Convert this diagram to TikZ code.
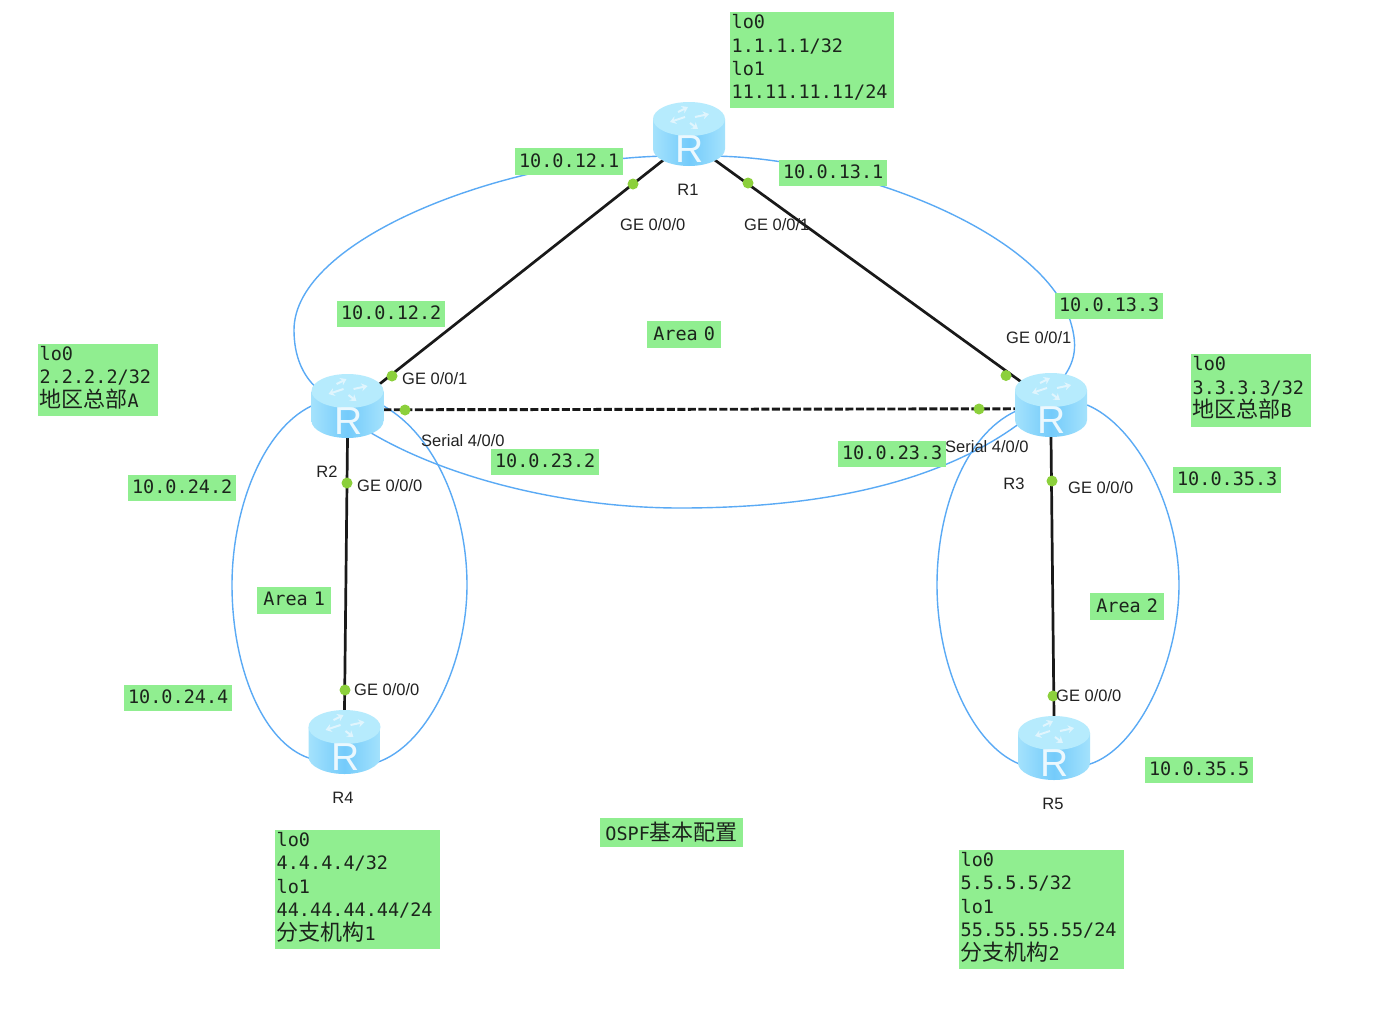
\documentclass[tikz,border=0pt]{standalone}
\usepackage{fontspec}
\setmainfont{Liberation Sans}
\setmonofont{DejaVu Sans Mono}
\newfontfamily\cjk{Noto Sans CJK SC}
\usetikzlibrary{shapes.geometric,arrows.meta}
\definecolor{boxgreen}{HTML}{90EE90}
\definecolor{wireblue}{HTML}{5AAAF5}
\definecolor{portgreen}{HTML}{8CD03C}
\definecolor{lightbody}{HTML}{A4E2FC}
\definecolor{midbody}{HTML}{74CBFB}
\definecolor{toptone}{HTML}{B6EBFD}
\definecolor{inktone}{HTML}{1C241C}
\definecolor{labeltone}{HTML}{222222}
\tikzset{
  routeranchor/.style={ellipse,minimum width=72pt,minimum height=64pt,inner sep=0pt},
  ospfarc/.style={draw=wireblue,line width=1.4pt},
  linkline/.style={draw=black!90,line width=2.7pt},
  serialline/.style={draw=black!90,line width=2.9pt,dash pattern=on 8pt off 2.5pt},
  portdot/.style={circle,fill=portgreen,minimum size=11pt,inner sep=0pt},
  ifacelabel/.style={anchor=west,inner sep=0pt,yshift=-0.7pt,text=labeltone,font=\fontsize{16.5}{20}\selectfont},
  routername/.style={inner sep=0pt,yshift=-0.7pt,text=labeltone,font=\fontsize{16.5}{20}\selectfont},
  greenbox/.style={fill=boxgreen,anchor=north west,inner xsep=1.5pt,inner ysep=0pt,text=inktone,
    font=\ttfamily\fontsize{18.5}{23.4}\selectfont},
  routersign/.style={draw=white!88!cyan,line width=2pt,-{Stealth[length=6pt,width=8pt]}},
}
\newcommand{\hanzi}[1]{{\cjk\fontsize{22}{23.4}\selectfont #1}}
\newcommand{\blockbox}[6]{\node[greenbox,align=left,text width=#4pt-3pt,minimum height=#5pt] (#1) at (#2,#3) {#6\rule[-7pt]{0pt}{7pt}};}
\newcommand{\tagbox}[6]{\node[greenbox,align=center,text width=#4pt-3pt,minimum height=#5pt,text depth=3pt] (#1) at (#2,#3) {#6};}
\newcommand{\routericon}[1]{%
  \begin{scope}[shift={(#1)}]
    \shade[left color=lightbody,right color=lightbody,middle color=midbody]
      (-36,-15) -- (-36,15) .. controls (-36,24) and (-20,32) .. (0,32)
      .. controls (20,32) and (36,24) .. (36,15) -- (36,-15) -- cycle;
    \fill[toptone] (0,-15) ellipse [x radius=36,y radius=17];
    \draw[routersign] (-4,-17) -- (-19,-12);
    \draw[routersign] (-11,-22) -- (-1,-27);
    \draw[routersign] (6,-17) -- (20,-20);
    \draw[routersign] (1,-11) -- (9,-5);
    \node[inner sep=0pt,text=white!92!cyan,font=\fontsize{39}{39}\selectfont] (#1glyph) at (1,15) {R};
  \end{scope}}
\begin{document}
\begin{tikzpicture}[x=1pt,y=-1pt]
\useasboundingbox (0,0) rectangle (1399,1018);
\fill[white] (0,0) rectangle (1399,1018);

\node[routeranchor] (r1) at (689,134) {};
\node[routeranchor] (r2) at (347.5,406) {};
\node[routeranchor] (r3) at (1051,405) {};
\node[routeranchor] (r4) at (344.5,742) {};
\node[routeranchor] (r5) at (1054,748) {};

% area outlines
\draw[ospfarc] (r1.-140) .. controls (500,160) and (294,240) .. (294,330)
  .. controls (294,355) and (302,375) .. (r2.150);
\draw[ospfarc] (r1.-40) .. controls (850,158) and (1040,230) .. (1070,320)
  .. controls (1078,345) and (1075,360) .. (r3.65);
\draw[ospfarc] (r2.-50) .. controls (450,480) and (570,508) .. (680,508)
  .. controls (800,508) and (930,490) .. (r3.-150);
\draw[ospfarc] (r2.180) .. controls (262,430) and (232,510) .. (232,585)
  .. controls (232,670) and (265,748) .. (r4.-150);
\draw[ospfarc] (r2.0) .. controls (435,435) and (467,510) .. (467,585)
  .. controls (467,665) and (425,752) .. (r4.-40);
\draw[ospfarc] (r3.-170) .. controls (965,435) and (937,510) .. (937,585)
  .. controls (937,670) and (975,750) .. (r5.-150);
\draw[ospfarc] (r3.0) .. controls (1135,425) and (1179,505) .. (1179,585)
  .. controls (1179,665) and (1135,755) .. (r5.-30);

% links
\draw[linkline] (r1.-134) -- (r2.34);
\draw[linkline] (r1.-46) -- (r3.142);
\draw[serialline] (r2.-6) -- (r3.186);
\draw[linkline] (r2.-90) -- (r4.90);
\draw[linkline] (r3.-90) -- (r5.90);

% ports
\node[portdot] (p12) at (633,184) {};
\node[portdot] (p21) at (392,376) {};
\node[portdot] (p13) at (748,183) {};
\node[portdot] (p31) at (1006,375.5) {};
\node[portdot] (p23) at (405,410) {};
\node[portdot] (p32) at (979,409) {};
\node[portdot] (p24) at (347,483) {};
\node[portdot] (p42) at (345,690) {};
\node[portdot] (p35) at (1052,481) {};
\node[portdot] (p53) at (1053,696) {};

\routericon{r1}
\routericon{r2}
\routericon{r3}
\routericon{r4}
\routericon{r5}

% router names
\node[routername] (n1) at (688,189) {R1};
\node[routername] (n2) at (327,471) {R2};
\node[routername] (n3) at (1014,483) {R3};
\node[routername] (n4) at (343,797) {R4};
\node[routername] (n5) at (1053,803) {R5};

% interface labels
\node[ifacelabel] (i1) at (620,224) {GE 0/0/0};
\node[ifacelabel] (i2) at (744,224) {GE 0/0/1};
\node[ifacelabel] (i3) at (402,378) {GE 0/0/1};
\node[ifacelabel] (i4) at (421,440) {Serial 4/0/0};
\node[ifacelabel] (i5) at (1006,337) {GE 0/0/1};
\node[ifacelabel] (i6) at (945,446) {Serial 4/0/0};
\node[ifacelabel] (i7) at (1068,487) {GE 0/0/0};
\node[ifacelabel] (i8) at (357,485) {GE 0/0/0};
\node[ifacelabel] (i9) at (354,689) {GE 0/0/0};
\node[ifacelabel] (i10) at (1056,695) {GE 0/0/0};

% green boxes
\blockbox{b1}{730}{12}{164}{96}{lo0\\1.1.1.1/32\\lo1\\11.11.11.11/24}
\blockbox{b2}{38}{344}{120}{72}{lo0\\2.2.2.2/32\\\hanzi{地区总部}A}
\blockbox{b3}{1191}{354}{120}{73}{lo0\\3.3.3.3/32\\\hanzi{地区总部}B}
\blockbox{b4}{275}{830}{165}{119}{lo0\\4.4.4.4/32\\lo1\\44.44.44.44/24\\\hanzi{分支机构}1}
\blockbox{b5}{959}{850}{165}{119}{lo0\\5.5.5.5/32\\lo1\\55.55.55.55/24\\\hanzi{分支机构}2}

\tagbox{t1}{515}{148}{108}{27}{10.0.12.1}
\tagbox{t2}{779}{160}{108}{26}{10.0.13.1}
\tagbox{t3}{337}{301}{108}{26}{10.0.12.2}
\tagbox{t4}{1055}{293}{108}{26}{10.0.13.3}
\tagbox{t5}{647}{321}{74}{27}{Area 0}
\tagbox{t6}{491}{449}{108}{26}{10.0.23.2}
\tagbox{t7}{838}{441}{108}{26}{10.0.23.3}
\tagbox{t8}{128}{475}{108}{26}{10.0.24.2}
\tagbox{t9}{124}{685}{108}{26}{10.0.24.4}
\tagbox{t10}{257}{587}{74}{27}{Area 1}
\tagbox{t11}{1090}{593}{74}{27}{Area 2}
\tagbox{t12}{1173}{467}{108}{26}{10.0.35.3}
\tagbox{t13}{1145}{757}{108}{26}{10.0.35.5}
\tagbox{t14}{600}{818}{143}{29}{OSPF\hanzi{基本配置}}
\end{tikzpicture}
\end{document}
